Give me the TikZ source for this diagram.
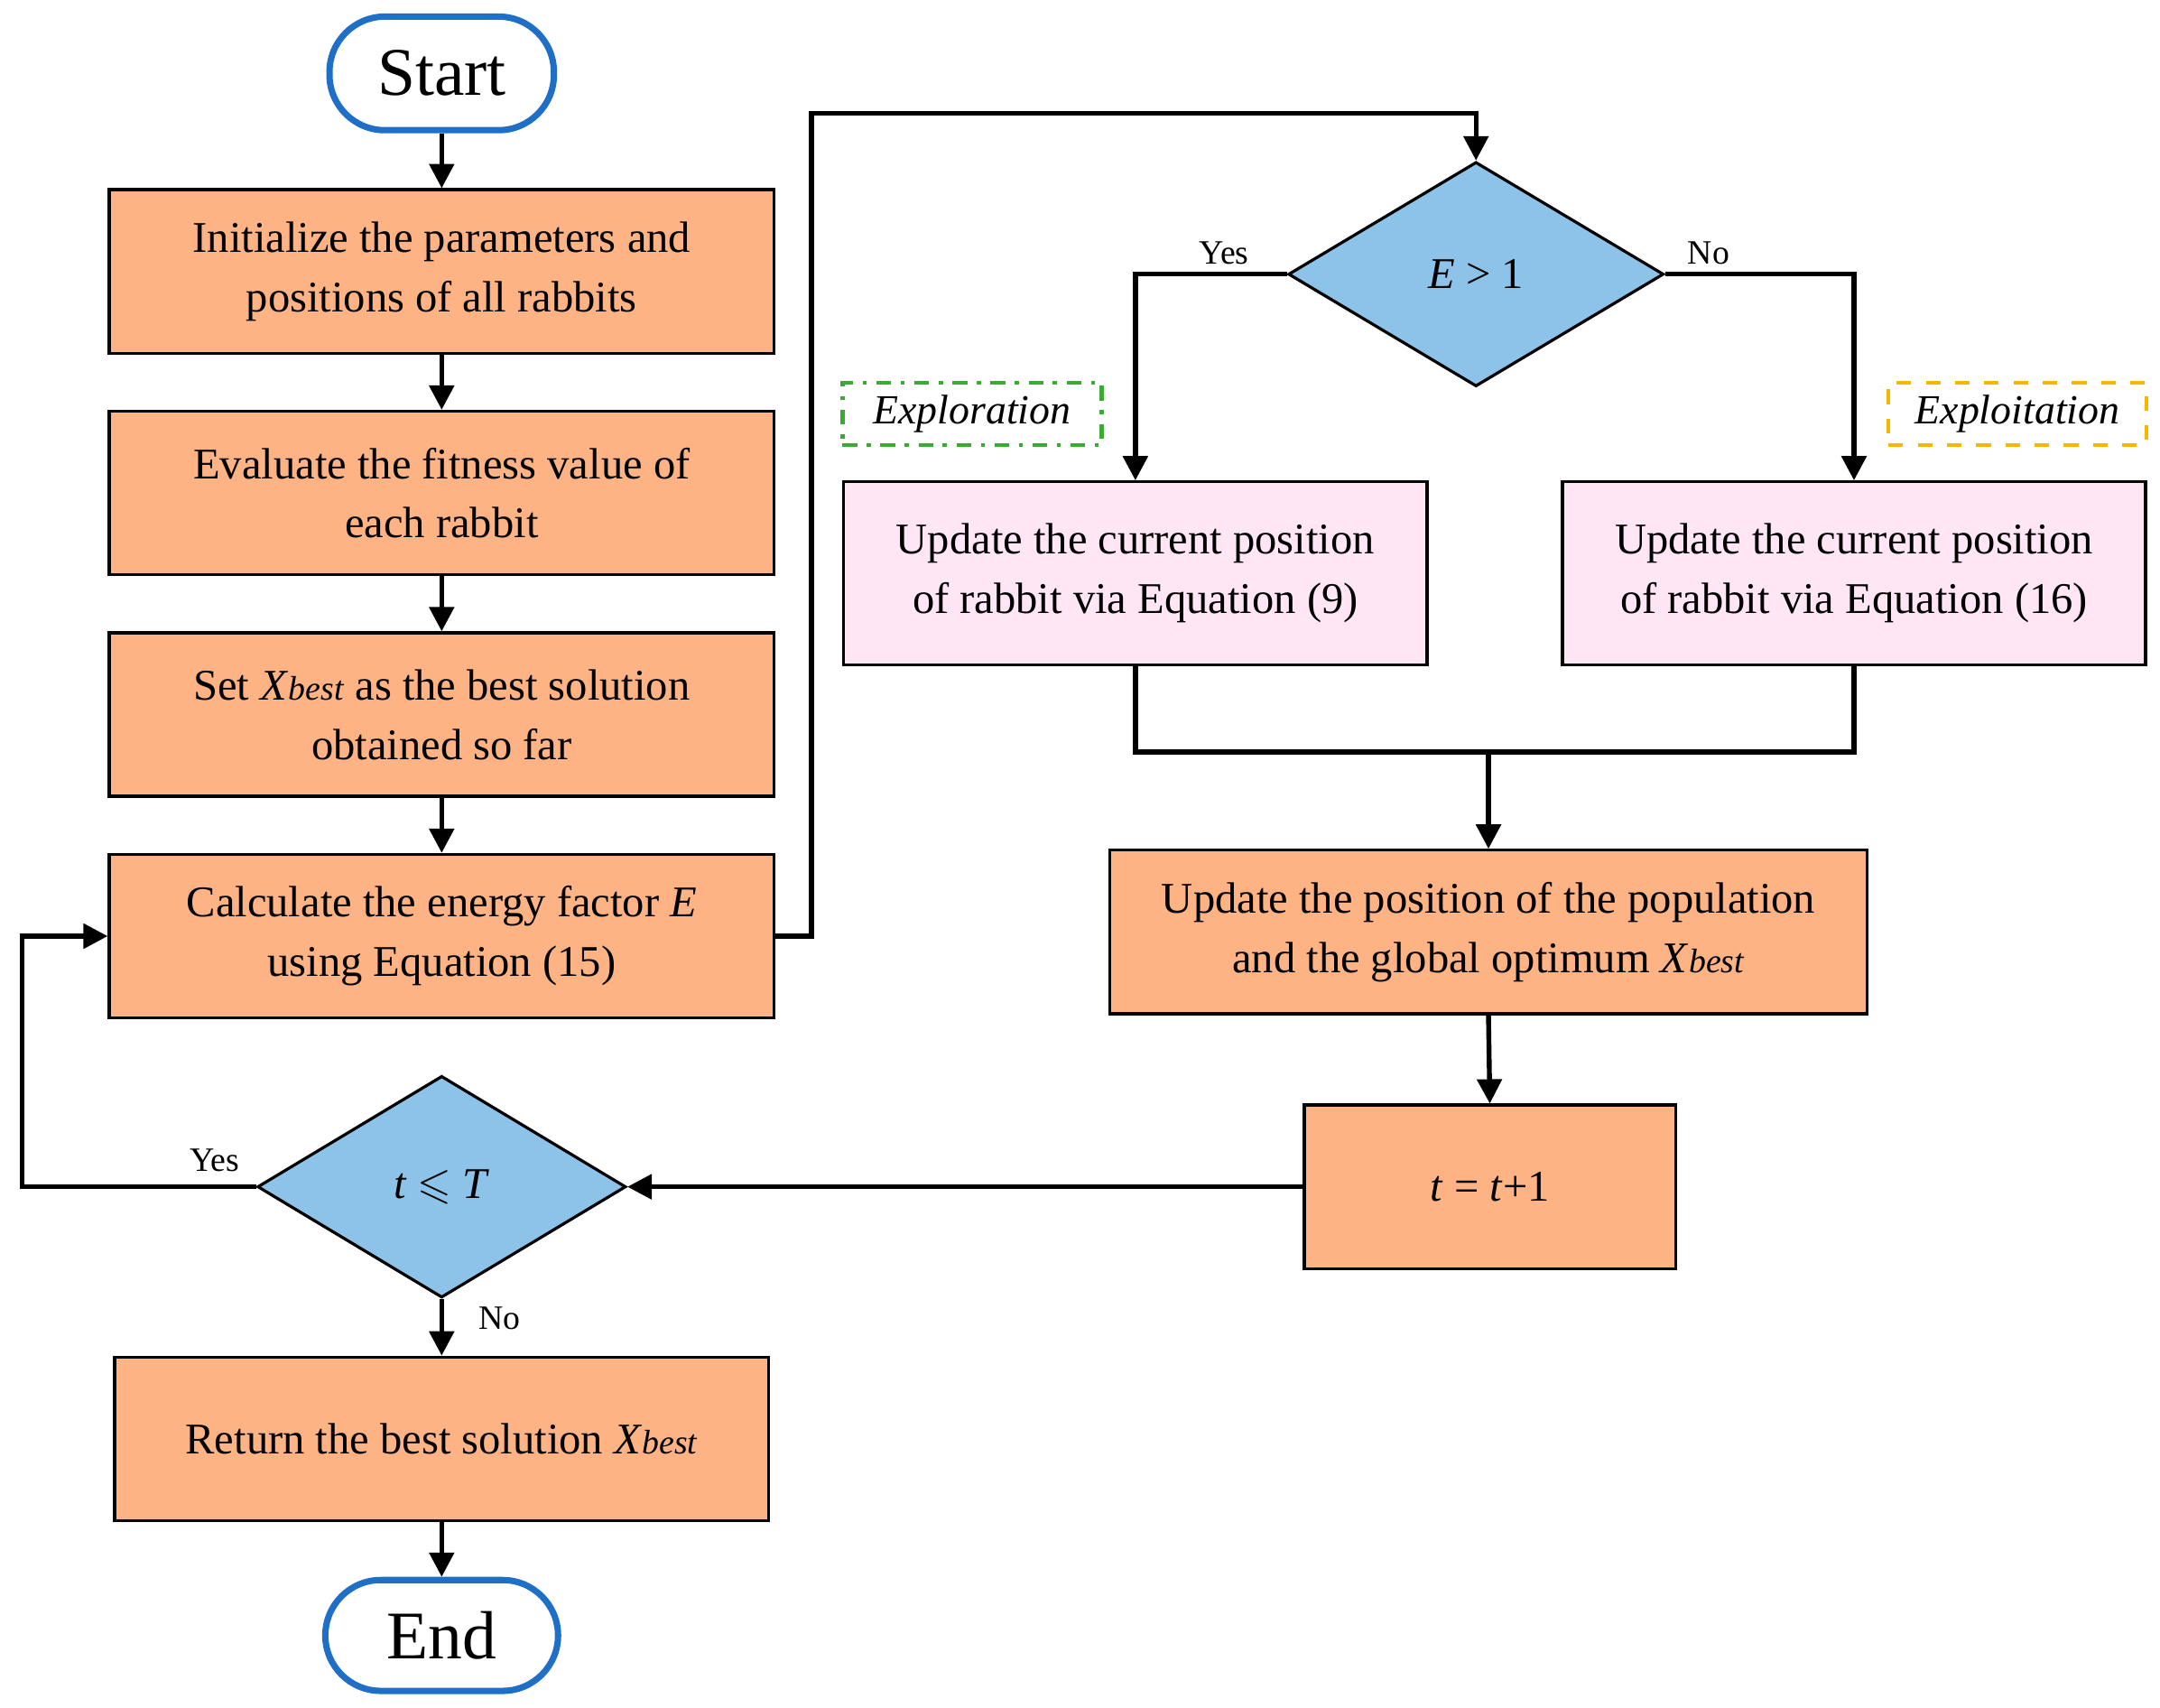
\documentclass[tikz,border=0pt]{standalone}
\usepackage{amssymb}
\usepackage{fontspec}
\setmainfont{Liberation Serif}
\usetikzlibrary{shapes.geometric,arrows.meta}
\definecolor{orf}{HTML}{FDB383}
\definecolor{blf}{HTML}{8DC3E8}
\definecolor{pkf}{HTML}{FFE6F5}
\definecolor{stb}{HTML}{1F6FC6}
\definecolor{grd}{HTML}{3AAA35}
\definecolor{yld}{HTML}{F5B800}
\newcommand{\xb}{\textit{X}{\fontsize{7}{8}\selectfont\textit{best}}}
\begin{document}
\begin{tikzpicture}[x=0.01cm,y=-0.01cm,
 box/.style={draw,line width=0.6pt,fill=orf,align=center,font=\fontsize{9}{12.2}\selectfont,inner sep=0pt},
 pbox/.style={box,fill=pkf},
 dia/.style={draw,line width=0.6pt,fill=blf,diamond,aspect=1.66,inner sep=0pt,font=\fontsize{9}{11}\selectfont},
 term/.style={draw=stb,line width=1.3pt,rounded corners=0.4cm,minimum width=1.62cm,minimum height=0.82cm,font=\fontsize{14}{16}\selectfont,fill=white},
 arr/.style={line width=1pt,-{Triangle[length=5pt,width=5pt]}},
 ln/.style={line width=1pt},
 lab/.style={font=\fontsize{7}{8}\selectfont,inner sep=1pt}]
\useasboundingbox (0,0) rectangle (1560,1233);
\node[term] (start) at (319,53) {Start};
\node[box,minimum width=4.8cm,minimum height=1.18cm] (b1) at (319,196) {Initialize the parameters and\\positions of all rabbits};
\node[box,minimum width=4.8cm,minimum height=1.18cm] (b2) at (319,356) {Evaluate the fitness value of\\each rabbit};
\node[box,minimum width=4.8cm,minimum height=1.18cm] (b3) at (319,516) {Set \xb{} as the best solution\\obtained so far};
\node[box,minimum width=4.8cm,minimum height=1.18cm] (b4) at (319,676) {Calculate the energy factor \textit{E}\\using Equation (15)};
\node[dia,minimum width=2.66cm,minimum height=1.6cm] (d2) at (319,857) {\textit{t} $\leqslant$ \textit{T}};
\node[box,minimum width=4.72cm,minimum height=1.18cm] (ret) at (319,1039) {Return the best solution \xb};
\node[term,minimum width=1.68cm,minimum height=0.8cm] (end) at (319,1181) {End};
\node[dia,minimum width=2.71cm,minimum height=1.62cm] (d1) at (1066,198) {\textit{E} > 1};
\node[pbox,minimum width=4.21cm,minimum height=1.32cm] (u9) at (820,414) {Update the current position\\of rabbit via Equation (9)};
\node[pbox,minimum width=4.21cm,minimum height=1.32cm] (u16) at (1339,414) {Update the current position\\of rabbit via Equation (16)};
\node[box,minimum width=5.47cm,minimum height=1.18cm] (pop) at (1075,673) {Update the position of the population\\and the global optimum \xb};
\node[box,minimum width=2.68cm,minimum height=1.18cm] (inc) at (1076,857) {\textit{t} = \textit{t}+1};
\node[draw=grd,line width=0.8pt,dash dot,minimum width=1.87cm,minimum height=0.45cm,inner sep=0pt,font=\fontsize{8.5}{10}\selectfont\itshape] (exr) at (702,299) {Exploration};
\node[draw=yld,line width=0.8pt,dashed,minimum width=1.86cm,minimum height=0.45cm,inner sep=0pt,font=\fontsize{8.5}{10}\selectfont\itshape] (exp) at (1457,299) {Exploitation};
\coordinate (m9) at (820,543);
\coordinate (m16) at (1339,543);
\coordinate (mc) at (1075,543);
\draw[arr] (start) -- (b1);
\draw[arr] (b1) -- (b2);
\draw[arr] (b2) -- (b3);
\draw[arr] (b3) -- (b4);
\draw[arr] (b4.east) -- (586,676) -- (586,82) -- (1066,82) -- (d1.north);
\draw[arr] (d1.west) -- (820,198) -- (u9.north);
\draw[arr] (d1.east) -- (1339,198) -- (u16.north);
\draw[ln] (u9.south) -- (m9) -- (m16) -- (u16.south);
\draw[arr] (mc) -- (pop.north);
\draw[arr] (pop.south) -- (inc.north);
\draw[arr] (inc.west) -- (d2.east);
\draw[arr] (d2.west) -- (16,857) -- (16,676) -- (b4.west);
\draw[arr] (d2.south) -- (ret.north);
\draw[arr] (ret) -- (end);
\node[lab] (y1) at (884,183) {Yes};
\node[lab] (n1) at (1234,183) {No};
\node[lab] (y2) at (155,838) {Yes};
\node[lab] (n2) at (361,952) {No};
\end{tikzpicture}
\end{document}
